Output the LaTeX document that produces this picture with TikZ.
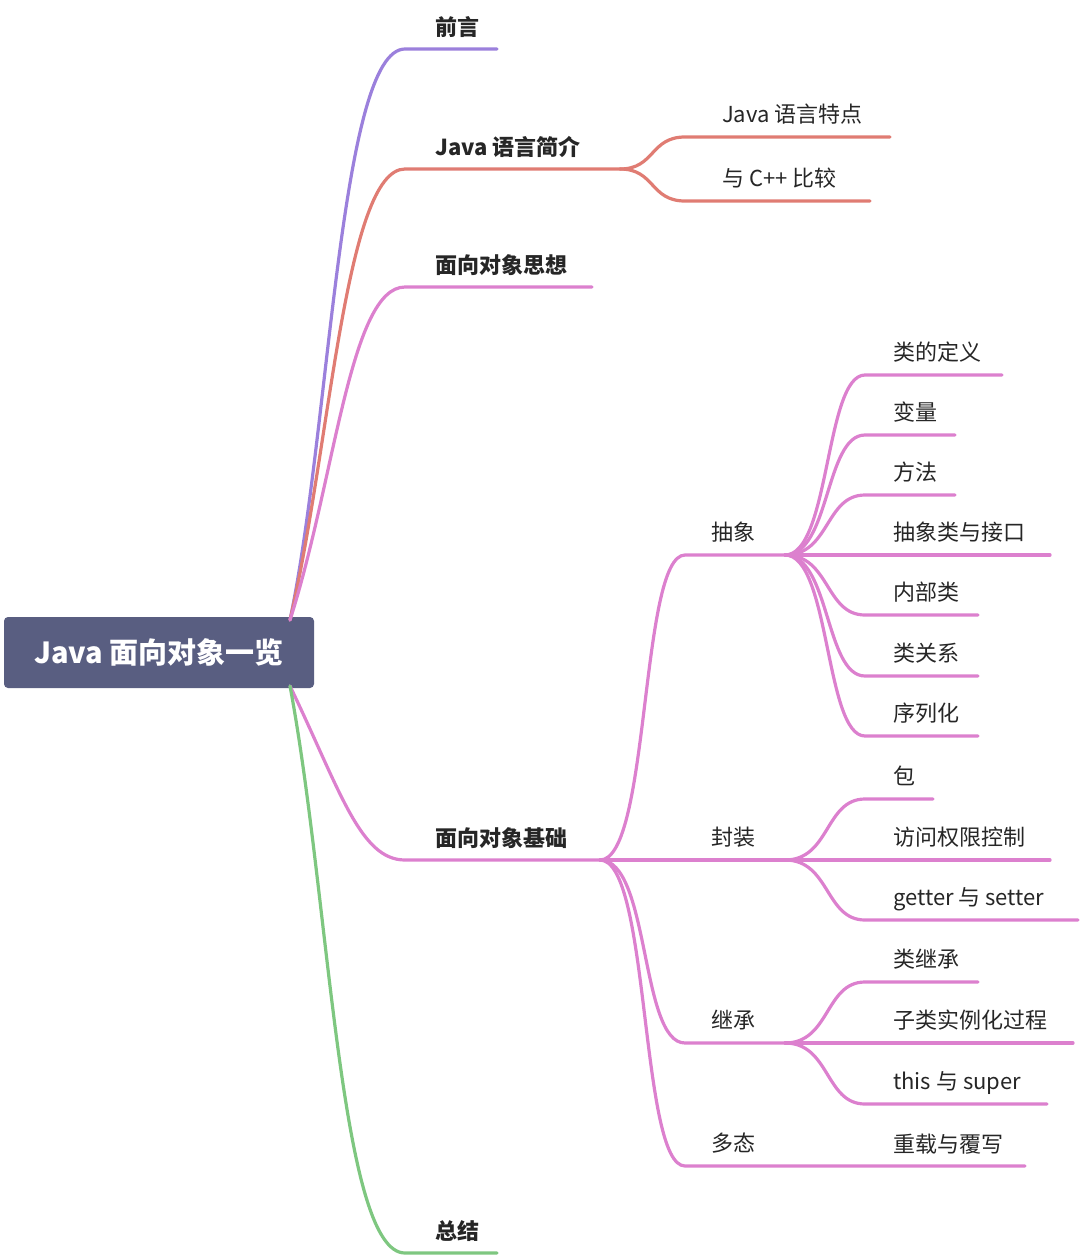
\documentclass[tikz,border=0pt]{standalone}
\usepackage{fontspec}
\setmainfont{Noto Sans CJK SC}
\begin{document}
\begin{tikzpicture}[x=1pt,y=-1pt,
  ln/.style={line width=3.2pt,line cap=round},
  lbl/.style={anchor=base west,inner sep=0pt,font=\fontsize{22}{22}\selectfont,text=black!85},
  lbb/.style={lbl,font=\fontsize{22}{22}\selectfont\bfseries}]
\definecolor{purp}{HTML}{9B80DC}
\definecolor{redb}{HTML}{E07C73}
\definecolor{pink}{HTML}{DC80CE}
\definecolor{grn}{HTML}{7EC780}
\definecolor{root}{HTML}{595E81}
\useasboundingbox (0,0) rectangle (1080,1258);
% root
\node[fill=root,rounded corners=4pt,minimum width=310pt,minimum height=71pt,inner sep=0pt,text=white,font=\fontsize{29}{29}\selectfont\bfseries] (R) at (159,652.5) {Java 面向对象一览};
\coordinate (rs) at (290,620);
\coordinate (rb) at (290,686);
\foreach \y/\e/\c/\t/\n in {49/497/purp/前言/a,169/620/redb/Java 语言简介/b,287/592/pink/面向对象思想/c,860/600/pink/面向对象基础/d,1253/497/grn/总结/e}{
  \coordinate (s\n) at (405,\y);
  \coordinate (e\n) at (\e,\y);
  \node[lbb] (t\n) at (435,\y-14) {\t};
}
\draw[ln,purp] (rs) .. controls (330,430) and (340,49) .. (sa) -- (ea);
\draw[ln,redb] (rs) .. controls (330,450) and (345,169) .. (sb) -- (eb);
\draw[ln,pink] (rs) .. controls (335,480) and (350,287) .. (sc) -- (ec);
\draw[ln,pink] (rb) .. controls (340,790) and (360,860) .. (sd) -- (ed);
\draw[ln,grn] (rb) .. controls (330,900) and (340,1253) .. (se) -- (ee);
% Java children
\foreach \y/\e/\t/\n in {137/890/Java 语言特点/1,201/870/与 C++ 比较/2}{
  \coordinate (bs\n) at (685,\y); \coordinate (be\n) at (\e,\y);
  \node[lbl] at (722,\y-15) {\t};
  \draw[ln,redb] (eb) .. controls (655,169) and (650,\y) .. (bs\n) -- (be\n);
}
% level 2
\foreach \y/\e/\t/\n in {555/785/抽象/A,860/785/封装/B,1043/785/继承/C,1166/1025/多态/D}{
  \coordinate (ds\n) at (685,\y); \coordinate (de\n) at (\e,\y);
  \node[lbl] (t\n) at (711,\y-15) {\t};
  \draw[ln,pink] (ed) .. controls (650,860) and (640,\y) .. (ds\n) -- (de\n);
}
\node[lbl] at (893,1152) {重载与覆写};
% level 3
\foreach \p/\py/\y/\e/\t in {A/555/375/1002/类的定义,A/555/435/955/变量,A/555/495/955/方法,A/555/555/1050/抽象类与接口,A/555/615/978/内部类,A/555/676/978/类关系,A/555/736/978/序列化,
  B/860/799/933/包,B/860/860/1050/访问权限控制,B/860/920/1078/getter 与 setter,
  C/1043/982/978/类继承,C/1043/1043/1073/子类实例化过程,C/1043/1104/1047/this 与 super}{
  \coordinate (ls) at (865,\y);
  \draw[ln,pink] (de\p) .. controls (830,\py) and (825,\y) .. (ls) -- (\e,\y);
  \node[lbl] at (893,\y-15) {\t};
}
\end{tikzpicture}
\end{document}
